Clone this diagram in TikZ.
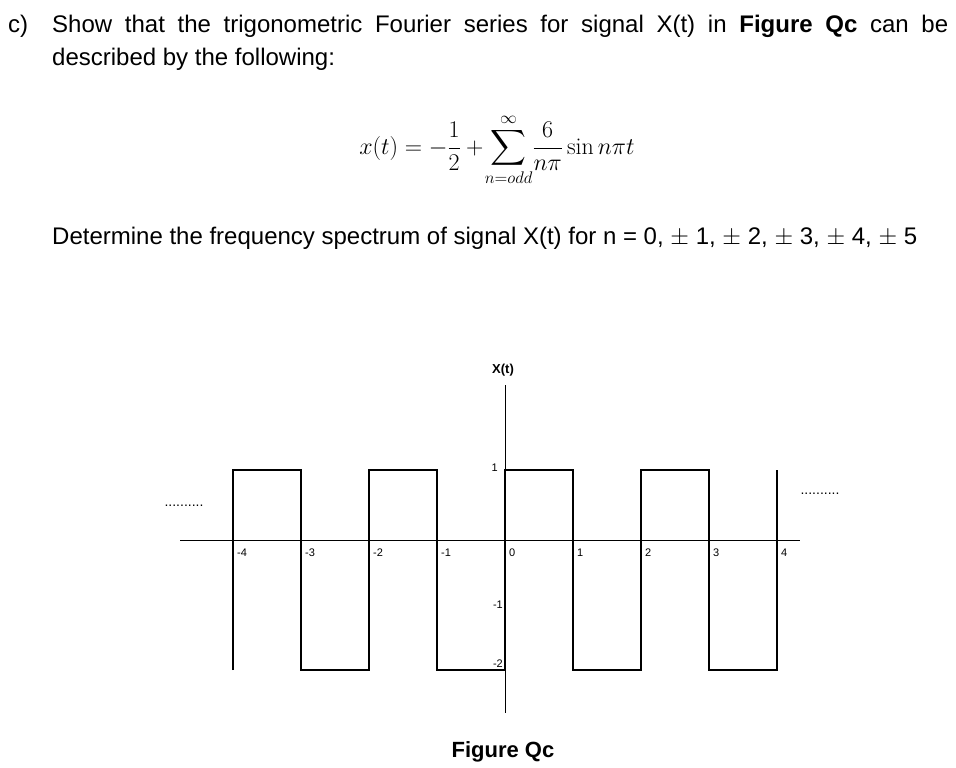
\documentclass[tikz,border=0pt]{standalone}
\usepackage{fix-cm}
\usepackage{exscale}
\usepackage{fontspec}
\setmainfont{Liberation Sans}
\begin{document}
\begin{tikzpicture}[x=1pt,y=-1pt,
  txt/.style={anchor=west,inner sep=0pt,font=\fontsize{24}{28}\selectfont},
  tick/.style={inner sep=0pt,font=\fontsize{11}{13}\selectfont},
  wave/.style={line width=2.4pt,line join=miter},
  ax/.style={line width=0.9pt}]
\useasboundingbox (0,0) rectangle (956,768);
\node[txt] (l0) at (8,26) {c)};
\node[txt] (l1) at (52,26) {\makebox[896pt][s]{Show that the trigonometric Fourier series for signal X(t) in \textbf{Figure Qc} can be}};
\node[txt] (l2) at (52,59) {described by the following:};
\node[inner sep=0pt,font=\fontsize{24}{30}\selectfont] (eq) at (497,150)
 {$\displaystyle x(t) = -\frac{1}{2} + \!\sum_{n=odd}^{\infty}\!\frac{6}{n\pi}\,\hbox{\fontfamily{lmr}\selectfont sin}\, n\pi t$};
\node[txt] (l3) at (52,238) {Determine the frequency spectrum of signal X(t) for n = 0, $\pm$ 1, $\pm$ 2, $\pm$ 3, $\pm$ 4, $\pm$ 5};
\coordinate (ht) at (505,385);
\coordinate (hb) at (505,713);
\coordinate (xl) at (180,540);
\coordinate (xr) at (800,540);
\draw[ax] (ht) -- (hb);
\draw[ax] (xl) -- (xr);
\node[tick,font=\fontsize{13}{15}\selectfont\bfseries] (xt) at (503,370) {X(t)};
\draw[wave] (233,670) -- (233,470) -- (301,470) -- (301,670) -- (369,670) -- (369,470) -- (437,470) -- (437,670) -- (505,670) -- (505,470) -- (573,470) -- (573,670) -- (641,670) -- (641,470) -- (709,470) -- (709,670) -- (777,670) -- (777,470);
\foreach \v/\xx in {-4/233,-3/301,-2/369,-1/437,0/505,1/573,2/641,3/709,4/777}
  \node[tick,anchor=west] (t\xx) at (\xx+4,553) {\v};
\node[tick,anchor=east] (y1) at (498,468) {1};
\node[tick,anchor=east] (ym1) at (503,605) {-1};
\node[tick,anchor=east] (ym2) at (503,664) {-2};
\node[tick,font=\fontsize{14}{16}\selectfont] (dl) at (184,506) {..........};
\node[tick,font=\fontsize{14}{16}\selectfont] (dr) at (820,494) {..........};
\node[inner sep=0pt,font=\fontsize{22}{26}\selectfont\bfseries] (fig) at (503,752) {Figure Qc};
\end{tikzpicture}
\end{document}
